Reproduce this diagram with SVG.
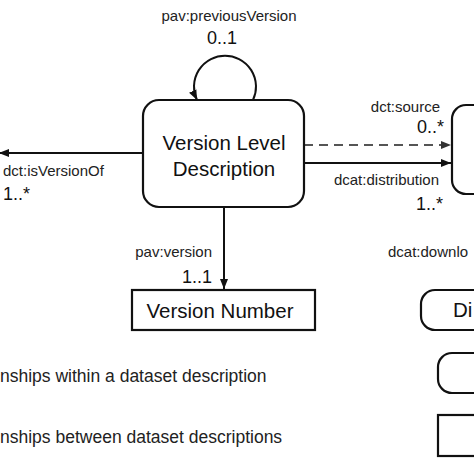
<svg xmlns="http://www.w3.org/2000/svg" width="474" height="474" viewBox="0 0 474 474">
<defs>
<style>
.box{fill:#fff;stroke:#111;stroke-width:2.2}
.ln{fill:none;stroke:#111;stroke-width:2}
.dash{fill:none;stroke:#555;stroke-width:2.2;stroke-dasharray:9,6}
.lbl{font-family:"Liberation Sans",Arial,sans-serif;font-size:15px;fill:#222}
.card{font-family:"Liberation Sans",Arial,sans-serif;font-size:18px;fill:#111}
.big{font-family:"Liberation Sans",Arial,sans-serif;font-size:20.5px;fill:#111}
.leg{font-family:"Liberation Sans",Arial,sans-serif;font-size:17.5px;fill:#222}
</style>
<marker id="ah" viewBox="0 0 10 10" refX="10" refY="5" markerWidth="10" markerHeight="10" markerUnits="userSpaceOnUse" orient="auto">
<path d="M0,1 L10,5 L0,9 Z" fill="#111"/>
</marker>
<marker id="ahg" viewBox="0 0 10 10" refX="10" refY="5" markerWidth="10" markerHeight="10" markerUnits="userSpaceOnUse" orient="auto">
<path d="M0,1 L10,5 L0,9 Z" fill="#333"/>
</marker>
</defs>
<rect width="474" height="474" fill="#fff"/>

<g id="connectors">
<path class="ln" d="M253,100 A31,31 0 1 0 197,100" marker-end="url(#ah)"/>
<line class="ln" x1="143" y1="153" x2="-1" y2="153" marker-end="url(#ah)"/>
<line class="dash" x1="304" y1="145" x2="451" y2="145" marker-end="url(#ahg)"/>
<line class="ln" x1="304" y1="163" x2="451" y2="163" marker-end="url(#ah)"/>
<line class="ln" x1="224" y1="207" x2="224" y2="289" marker-end="url(#ah)"/>
</g>

<g id="labels">
<text class="lbl" x="229" y="21" text-anchor="middle">pav:previousVersion</text>
<text class="card" x="222" y="44" text-anchor="middle">0..1</text>
<text class="lbl" x="3" y="176">dct:isVersionOf</text>
<text class="card" x="3" y="200">1..*</text>
<text class="lbl" x="440" y="112" text-anchor="end">dct:source</text>
<text class="card" x="444" y="133" text-anchor="end">0..*</text>
<text class="lbl" x="439" y="185" text-anchor="end">dcat:distribution</text>
<text class="card" x="443" y="210" text-anchor="end">1..*</text>
<text class="lbl" x="212" y="257" text-anchor="end">pav:version</text>
<text class="card" x="212" y="283" text-anchor="end">1..1</text>
<text class="lbl" x="388" y="257">dcat:downlo</text>
</g>

<g id="version-level-description">
<rect class="box" x="143" y="100" width="161" height="107" rx="16"/>
<text class="big" x="224" y="150" text-anchor="middle">Version Level</text>
<text class="big" x="224" y="176" text-anchor="middle">Description</text>
</g>

<g id="right-node">
<rect class="box" x="452" y="105" width="40" height="89" rx="14"/>
</g>

<g id="version-number">
<rect class="box" x="132" y="290" width="183" height="40"/>
<text class="big" x="220" y="318" text-anchor="middle">Version Number</text>
</g>

<g id="distribution">
<rect class="box" x="421" y="290" width="70" height="40" rx="14"/>
<text class="big" x="453" y="317">Di</text>
</g>

<g id="legend">
<rect class="box" x="438" y="353" width="60" height="40" rx="14"/>
<text class="leg" x="0" y="382">nships within a dataset description</text>
<rect class="box" x="438" y="415" width="60" height="41"/>
<text class="leg" x="0" y="443">nships between dataset descriptions</text>
</g>
</svg>
